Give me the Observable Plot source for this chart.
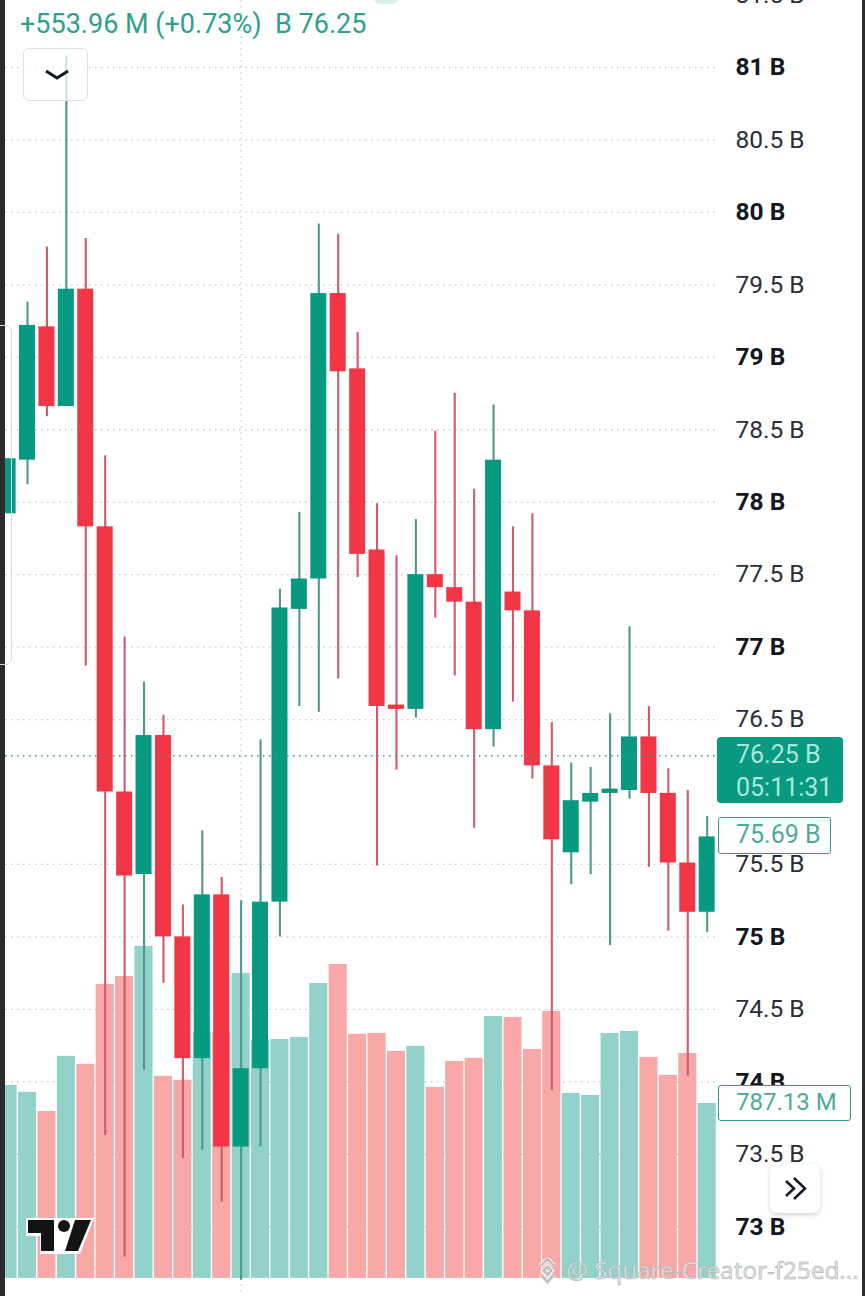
<!DOCTYPE html>
<html>
<head>
<meta charset="utf-8">
<script src="https://cdn.jsdelivr.net/npm/d3@7"></script>
<script src="https://cdn.jsdelivr.net/npm/@observablehq/plot@0.6"></script>
<style>
html,body{margin:0;padding:0;background:#fff;overflow:hidden}
#wrap{position:relative;width:865px;height:1296px;overflow:hidden;font-family:Roboto,sans-serif}
#wrap svg.plot{display:block;position:absolute;left:0;top:0}
.o{position:absolute;box-sizing:border-box}
.badge{position:absolute;box-sizing:border-box;left:718px;border:1.5px solid #2b9d8c;border-radius:3px;background:#fff;color:#4fa99b;line-height:33px;padding-left:17px}
</style>
</head>
<body>
<div id="wrap"></div>
<script>
const opens  = [77.92,78.29,79.21,78.66,79.47,77.83,76.00,75.43,76.39,75.00,74.16,75.29,73.55,74.09,75.24,77.26,77.47,79.44,78.92,77.67,76.60,76.57,77.50,77.41,77.31,76.43,77.38,77.25,76.18,75.58,75.93,75.99,76.01,76.38,75.99,75.51,75.17];
const closes = [78.30,79.22,78.66,79.47,77.83,76.00,75.42,76.39,75.00,74.16,75.29,73.55,74.09,75.24,77.27,77.47,79.44,78.90,77.64,76.59,76.57,77.50,77.41,77.31,76.43,78.29,77.25,76.18,75.67,75.94,75.99,76.02,76.38,75.99,75.51,75.17,75.69];
const highs  = [78.30,79.38,79.76,81.08,79.82,78.32,77.07,76.76,76.53,75.22,75.73,75.41,75.25,76.36,77.40,77.93,79.92,79.85,79.17,77.99,77.63,77.88,78.49,78.75,78.09,78.67,77.83,77.92,76.48,76.20,76.17,76.54,77.14,76.59,76.16,76.01,75.83];
const lows   = [77.92,78.12,78.59,78.66,76.87,73.63,72.79,74.08,74.68,73.47,73.53,73.17,72.63,73.55,75.00,76.59,76.55,76.78,77.48,75.49,76.15,76.51,77.20,76.80,75.75,76.31,76.62,76.09,73.94,75.36,75.43,74.94,75.95,75.48,75.04,74.04,75.03];
const volumes= [868,837,751,999,963,1322,1358,1493,909,891,1106,1106,1372,1070,1075,1084,1327,1412,1098,1102,1021,1044,859,976,990,1178,1174,1030,1201,832,823,1102,1111,994,913,1012,787];
const halfTicks = [81.5,80.5,79.5,78.5,77.5,76.5,75.5,74.5,73.5];
const boldTicks = [81,80,79,78,77,75,74,73];
const lastPrice = 76.25;

const bars = opens.map((o,i)=>({i,o,c:closes[i],h:highs[i],l:lows[i],v:volumes[i],up:closes[i]>=o}));
const pxPerB = 144.9;
const priceAt = p => 81-(p-67)/pxPerB;
const volBase = 72.643, bPerM = 1/(4.498*pxPerB);
const green="#089981", red="#f23645", gWick="#4a9a8c", rWick="#cf5a6a", gVol="#92d2cb", rVol="#f7a8a7";
const bw=0.412, vw=0.465;
const tickStyle={anchor:"right",tickSize:0,tickPadding:19,textAnchor:"start",fontSize:24.5,label:null,tickFormat:d=>d+" B",fontFamily:"Roboto,sans-serif"};

const chart = Plot.plot({
  width:865,height:1296,
  marginLeft:5,marginRight:149,marginTop:0,marginBottom:0,
  x:{type:"linear",domain:[-0.134,36.48],axis:null},
  y:{type:"linear",domain:[priceAt(1296),priceAt(0)],axis:null},
  marks:[
    Plot.gridY(halfTicks.concat(boldTicks),{stroke:"#c4c8cc",strokeOpacity:1,strokeDasharray:"1.5 4.5",strokeWidth:1.3}),
    Plot.gridX([12],{stroke:"#c4c8cc",strokeOpacity:1,strokeDasharray:"1.5 4.5",strokeWidth:1.3}),
    Plot.rect(bars,{x1:d=>d.i-vw,x2:d=>d.i+vw,y1:volBase,y2:d=>volBase+d.v*bPerM,fill:d=>d.up?gVol:rVol,clip:true}),
    Plot.ruleX(bars,{x:"i",y1:"l",y2:"h",stroke:d=>d.up?gWick:rWick,strokeWidth:2.1,clip:true}),
    Plot.rect(bars,{x1:d=>d.i-bw,x2:d=>d.i+bw,y1:"o",y2:"c",fill:d=>d.up?green:red,clip:true}),
    Plot.ruleY([lastPrice],{stroke:"#4d8f86",strokeDasharray:"1.5 4.5",strokeWidth:1.5}),
    Plot.axisY(halfTicks,{...tickStyle,fill:"#2a2e39"}),
    Plot.axisY(boldTicks,{...tickStyle,fill:"#131722",fontWeight:"bold"})
  ]
});
const wrap=document.getElementById("wrap");
wrap.append(chart);

function add(html){const t=document.createElement("template");t.innerHTML=html.trim();wrap.append(t.content.firstChild);}
// window edges
add('<div class="o" style="left:0;top:0;width:4.5px;height:1296px;background:#2b2b2b"></div>');
add('<div class="o" style="left:861.5px;top:0;width:4px;height:1296px;background:#2b2b2b"></div>');
// header
add('<div class="o" style="left:20px;top:8px;font-size:27px;line-height:32px;color:#2e9f8e;white-space:pre">+553.96 M (+0.73%)  B 76.25</div>');
add('<div class="o" style="left:373px;top:-12px;width:26px;height:16px;border-radius:13px;background:#d9efeb"></div>');
// collapse button
add('<div class="o" style="left:23px;top:48px;width:65px;height:53px;border:1.5px solid #dcdfe3;border-radius:6px;background:rgba(255,255,255,.72)"><svg width="62" height="50" style="position:absolute;left:0;top:0"><path d="M22 22 L33 29 L44 22" fill="none" stroke="#131722" stroke-width="3"/></svg></div>');
// left panel outline
add('<div class="o" style="left:-8px;top:325px;width:20px;height:340px;border:1.5px solid #d5d8dc;border-radius:7px;"></div>');
// price badges
add('<div class="o" style="left:717px;top:737px;width:126px;height:66px;background:#089981;border-radius:4px;color:#a9e8dc;font-size:25px;line-height:33px;padding-left:19px;padding-top:1px">76.25 B<br>05:11:31</div>');
add('<div class="badge" style="top:817px;width:113px;height:37px;font-size:25px">75.69 B</div>');
add('<div class="badge" style="top:1085px;width:133px;height:36px;font-size:24px">787.13 M</div>');
// scroll button
add('<div class="o" style="left:770px;top:1164px;width:50px;height:49px;background:#fff;border-radius:7px;box-shadow:0 2px 5px rgba(0,0,0,.18)"><svg width="50" height="49" style="position:absolute;left:0;top:0"><path d="M16 17 L24 24.5 L16 32 M24 14 L35 24.5 L24 35" fill="none" stroke="#131722" stroke-width="2.5"/></svg></div>');
// logo
add('<svg class="o" style="left:24px;top:1215px" width="72" height="42" viewBox="24 1215 72 42"><path d="M26 1218H94L80 1254H40V1236H26Z" fill="#fff"/><path d="M28 1220H54V1251H41V1233H28Z" fill="#131313"/><circle cx="64" cy="1226" r="6" fill="#131313"/><path d="M75 1220H91L78 1251H65Z" fill="#131313"/></svg>');
// watermark
add('<svg class="o" style="left:533px;top:1256px" width="30" height="30" viewBox="0 0 30 30"><g fill="none" stroke="#f1f1f1" stroke-width="4.5"><path d="M14.5 3 L21 9.5 M14.5 3 L8 9.5 M8 18.5 L14.5 26 L21 18.5 M10.5 14.5 L14.5 10.5 L18.5 14.5 L14.5 18.5Z"/></g><g fill="none" stroke="#b9bcbc" stroke-width="2.2"><path d="M14.5 3 L21 9.5 M14.5 3 L8 9.5 M4 14.5 L5 14.5 M24 14.5 L25 14.5 M8 18.5 L14.5 26 L21 18.5 M10.5 14.5 L14.5 10.5 L18.5 14.5 L14.5 18.5Z"/></g></svg>');
add('<div class="o" style="left:566px;top:1254px;font-family:\'Noto Sans\',sans-serif;font-size:24.2px;line-height:32px;color:#dfe2e2;-webkit-text-stroke:.5px #a9adad;white-space:pre">@ Square-Creator-f25ed...</div>');
</script>
</body>
</html>
